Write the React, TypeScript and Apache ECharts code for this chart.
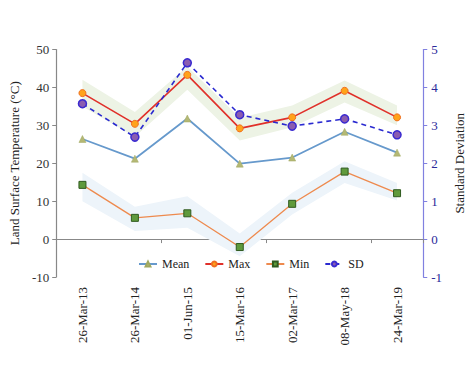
import React, { useEffect, useRef } from "react";
import * as echarts from "echarts";

const categories = ["26-Mar-13", "26-Mar-14", "01-Jun-15", "15-Mar-16", "02-Mar-17", "08-May-18", "24-Mar-19"];
const meanValues = [26.4, 21.2, 31.8, 19.9, 21.5, 28.3, 22.8];
const maxValues = [38.5, 30.4, 43.3, 29.2, 32.1, 39.1, 32.1];
const minValues = [14.3, 5.6, 6.8, -2.1, 9.3, 17.8, 12.1];
const sdValues = [3.57, 2.69, 4.65, 3.28, 2.98, 3.17, 2.75];
const maxBandLower = [35, 27, 39.4, 26, 29.5, 36, 30];
const maxBandUpper = [42, 33.5, 45.5, 32, 35.2, 41.8, 35.2];
const minBandLower = [10, 2.1, 3, -4.5, 6.5, 14.8, 10.2];
const minBandUpper = [17.5, 8.5, 11.3, 1.5, 12.2, 20.5, 14.8];
const leftTicks = { min: -10, max: 50, interval: 10 };
const rightTicks = { min: -1, max: 5, interval: 1 };

const FONT = "'Liberation Serif', 'DejaVu Serif', 'Times New Roman', serif";

export default function App() {
  const ref = useRef<HTMLDivElement>(null);
  useEffect(() => {
    if (!ref.current) return;
    const chart = echarts.init(ref.current, undefined, { renderer: "svg" });
    const diff = (u: number[], l: number[]) => u.map((v, i) => +(v - l[i]).toFixed(2));
    const bandBase = (name: string, data: number[], stack: string) => ({
      name,
      type: "line",
      data,
      stack,
      stackStrategy: "all",
      symbol: "none",
      lineStyle: { opacity: 0 },
      silent: true,
      z: 1,
    });
    const bandTop = (name: string, data: number[], stack: string, color: string) => ({
      name,
      type: "line",
      data,
      stack,
      stackStrategy: "all",
      symbol: "none",
      lineStyle: { opacity: 0 },
      areaStyle: { color, opacity: 1 },
      silent: true,
      z: 1,
    });
    chart.setOption({
      animation: false,
      textStyle: { fontFamily: FONT },
      grid: { left: 41, right: 38, top: 49.5, bottom: 89 },
      legend: {
        data: ["Mean", "Max", "Min", "SD"],
        left: 133,
        top: 253,
        itemWidth: 18,
        itemHeight: 6,
        itemGap: 15,
        textStyle: { fontFamily: FONT, fontSize: 12, color: "#222" },
      },
      xAxis: [
        {
          type: "category",
          data: categories,
          boundaryGap: true,
          axisLine: { show: false, onZero: false },
          axisTick: { show: false },
          axisLabel: { rotate: 90, margin: 10, fontFamily: FONT, fontSize: 13, color: "#222" },
        },
        {
          type: "category",
          data: categories,
          boundaryGap: true,
          position: "bottom",
          axisLine: { show: true, onZero: true, onZeroAxisIndex: 0, lineStyle: { color: "#888", width: 1.2 } },
          axisTick: { show: true, length: 4, lineStyle: { color: "#888" } },
          axisLabel: { show: false },
        },
      ],
      yAxis: [
        {
          type: "value",
          ...leftTicks,
          name: "Land Surface Temperature (°C)",
          nameLocation: "middle",
          nameGap: 27,
          nameTextStyle: { fontFamily: FONT, fontSize: 13, color: "#222" },
          axisLine: { show: true, lineStyle: { color: "#888", width: 1.2 } },
          axisTick: { show: true, length: 4, lineStyle: { color: "#888" } },
          axisLabel: { fontFamily: FONT, fontSize: 13, color: "#333", margin: 7 },
          splitLine: { show: false },
        },
        {
          type: "value",
          ...rightTicks,
          position: "right",
          name: "Standard Deviation",
          nameLocation: "middle",
          nameGap: 26,
          nameRotate: 90,
          nameTextStyle: { fontFamily: FONT, fontSize: 13, color: "#222" },
          axisLine: { show: true, lineStyle: { color: "#8080e0", width: 1.2 } },
          axisTick: { show: true, length: 4, lineStyle: { color: "#8080e0" } },
          axisLabel: { fontFamily: FONT, fontSize: 13, color: "#2a2a9a", margin: 8 },
          splitLine: { show: false },
        },
      ],
      series: [
        bandBase("maxLow", maxBandLower, "maxBand"),
        bandTop("maxHigh", diff(maxBandUpper, maxBandLower), "maxBand", "#edf3e5"),
        bandBase("minLow", minBandLower, "minBand"),
        bandTop("minHigh", diff(minBandUpper, minBandLower), "minBand", "#edf4fa"),
        {
          name: "Mean",
          type: "line",
          data: meanValues,
          symbol: "triangle",
          symbolSize: 7,
          lineStyle: { color: "#6699cc", width: 1.8 },
          itemStyle: { color: "#b4b874", borderColor: "#a0a860", borderWidth: 0.5 },
          z: 3,
        },
        {
          name: "Max",
          type: "line",
          data: maxValues,
          symbol: "circle",
          symbolSize: 7,
          lineStyle: { color: "#e0302a", width: 1.6 },
          itemStyle: { color: "#ffa31a", borderColor: "#f07020", borderWidth: 1 },
          z: 3,
        },
        {
          name: "Min",
          type: "line",
          data: minValues,
          symbol: "rect",
          symbolSize: 7,
          lineStyle: { color: "#ee8a4e", width: 1.3 },
          itemStyle: { color: "#5f9a3c", borderColor: "#2f5a1f", borderWidth: 1 },
          z: 3,
        },
        {
          name: "SD",
          type: "line",
          yAxisIndex: 1,
          data: sdValues,
          symbol: "circle",
          symbolSize: 8,
          lineStyle: { color: "#2a2ad0", width: 1.6, type: [5, 4] },
          itemStyle: { color: "#8a5cb0", borderColor: "#3a2ad0", borderWidth: 1.5 },
          z: 4,
        },
      ],
    });
    return () => chart.dispose();
  }, []);
  return <div ref={ref} style={{ width: 474, height: 366, margin: -8 }} />;
}
